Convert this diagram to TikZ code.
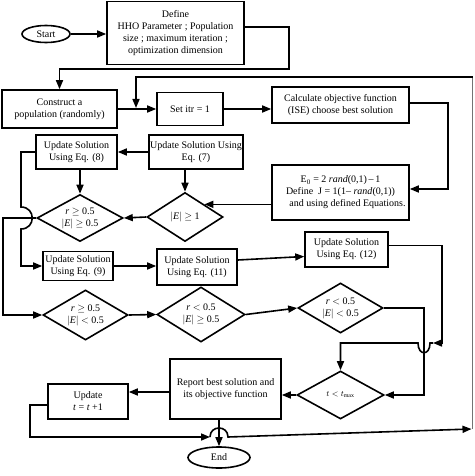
\documentclass[tikz,border=0pt]{standalone}
\usepackage{fontspec}
\setmainfont{Liberation Serif}
\usetikzlibrary{shapes.geometric,arrows.meta}
\begin{document}
\begin{tikzpicture}[x=1pt,y=-1pt,
  txt/.style={font=\fontsize{10}{12}\selectfont},
  box/.style={txt,draw,line width=1.6pt,rectangle,inner sep=0pt,align=center},
  dia/.style={txt,draw,line width=1.6pt,diamond,shape aspect=1.8,inner sep=0pt,align=center},
  oval/.style={txt,draw,line width=1.6pt,ellipse,inner sep=0pt},
  arr/.style={line width=1.6pt,-{Triangle[length=9pt,width=7pt]}},
  ln/.style={line width=1.6pt},
  edge/.style={line width=1.6pt,draw=black!55}]
\useasboundingbox (0,0) rectangle (474,476);

% nodes
\node[oval,minimum width=48pt,minimum height=17pt] (start) at (46,34) {Start};
\node[box,minimum width=137pt,minimum height=63pt] (define) at (175.5,33)
  {Define\\HHO Parameter ; Population\\size ; maximum iteration ;\\optimization dimension};
\node[box,minimum width=115pt,minimum height=38pt] (construct) at (59.5,109)
  {Construct a\\population (randomly)};
\node[box,minimum width=66pt,minimum height=33pt] (setitr) at (190,109) {Set itr = 1};
\node[box,minimum width=137pt,minimum height=36pt] (calc) at (340.5,105)
  {Calculate objective function\\(ISE) choose best solution};
\node[box,minimum width=137pt,minimum height=55pt] (e0) at (340.5,192.5)
  {E\textsubscript{0} = 2 \textit{rand}(0,1)\,--\,1\\
   Define\ \ J = 1(1-- \textit{rand}(0,1))\hspace{10pt}\\
   \hspace{14pt}and using defined Equations.};
\node[box,minimum width=94pt,minimum height=34pt] (eq7) at (196,152)
  {Update Solution Using\\Eq. (7)};
\node[box,minimum width=81pt,minimum height=34pt] (eq8) at (76.5,152)
  {Update Solution\\Using Eq. (8)};
\node[dia,minimum width=76pt,minimum height=49pt] (d1) at (185,217)
  {$|\textit{E}|$ $\geq$ 1};
\node[dia,minimum width=86pt,minimum height=47pt] (d2) at (80,218)
  {\textit{r} $\geq$ 0.5\\$|\textit{E}|$ $\geq$ 0.5};
\node[box,minimum width=70pt,minimum height=29pt] (eq9) at (78,266)
  {Update Solution\\Using Eq. (9)};
\node[box,minimum width=80pt,minimum height=36pt] (eq11) at (197,267)
  {Update Solution\\Using Eq. (11)};
\node[box,minimum width=83pt,minimum height=35pt] (eq12) at (346.5,249.5)
  {Update Solution\\Using Eq. (12)};
\node[dia,minimum width=85pt,minimum height=50pt] (d3) at (85.5,315)
  {\textit{r} $\geq$ 0.5\\$|\textit{E}|$ $<$ 0.5};
\node[dia,minimum width=88pt,minimum height=55pt] (d4) at (201,314.5)
  {\textit{r} $<$ 0.5\\$|\textit{E}|$ $\geq$ 0.5};
\node[dia,minimum width=85pt,minimum height=50pt] (d5) at (340.5,308)
  {\textit{r} $<$ 0.5\\$|\textit{E}|$ $<$ 0.5};
\node[dia,minimum width=87pt,minimum height=48pt,font=\fontsize{8.5}{10}\selectfont] (dt) at (340.5,395)
  {$t<t_{\max}$};
\node[box,minimum width=111pt,minimum height=60pt] (report) at (225.5,389)
  {Report best solution and\\its objective function};
\node[box,minimum width=80pt,minimum height=35pt] (update) at (88,401.5)
  {Update\\\textit{t} = \textit{t} +1};
\node[oval,minimum width=62pt,minimum height=21pt] (end) at (219,457.5) {End};

% helper coordinates
\coordinate (a1) at (289,27);
\coordinate (a2) at (289,69);
\coordinate (c1) at (448,189);
\coordinate (l1) at (30,437);
\coordinate (h1) at (210,437);
\coordinate (h2) at (228,437);
\coordinate (r1) at (471.5,429);
\coordinate (r2) at (472.5,429);
\coordinate (r3) at (472.5,77);
\coordinate (t1) at (136,77);
\coordinate (t2) at (136,108);
\coordinate (q1) at (442,343);
\coordinate (q2) at (433,343);
\coordinate (q3) at (430,343);
\coordinate (q4) at (418,343);
\coordinate (v1) at (424,395);
\coordinate (k1) at (21,207);
\coordinate (k2) at (21,229);
\coordinate (w1) at (3,218);

% connectors
\draw[arr] (start.east) -- (start.east -| define.west);
\draw[arr] ([yshift=6pt]define.east) -- (a1) -- (a2) -| (construct.north);
\draw[arr] (construct.east) -- (setitr.west);
\draw[arr] (setitr.east) -- (setitr.east -| calc.west);
\draw[arr] ([yshift=2pt]calc.east) -| (c1) -- (c1 -| e0.east);
\draw[arr] (e0.west |- d1.north east) -- (d1.north east);
\draw[arr] (eq7.west) -- (eq8.east);
\draw[arr] (eq7.south -| d1.north) -- (d1.north);
\draw[arr] (eq8.south -| d2.north) -- (d2.north);
\draw[arr] (d1.west) -- (d2.east);
\draw[arr] (eq8.west) -| (k1) .. controls (36,207) and (36,229) .. (k2) |- (eq9.west);
\draw[arr] (d2.west) -- (w1) |- (d3.west);
\draw[arr] (eq9.east) -- (eq9.east -| eq11.west);
\draw[arr] ([yshift=7pt]eq11.east) -- ([yshift=-7pt]eq12.west);
\draw[arr] ([yshift=4pt]eq12.east) -| (q1) -- (q2);
\draw[arr] (q2) -- (q3) .. controls (430,356) and (418,356) .. (q4) -| (dt.north);
\draw[arr] (d3.east) -- (d4.west);
\draw[arr] (d4.east) -- (d5.west);
\draw[arr] (d5.east) -| (v1) -- (dt.east);
\draw[arr] (dt.west) -- (dt.west -| report.east);
\draw[arr] ([yshift=-3pt]report.west) -- ([yshift=-3pt]report.west -| update.east);
\draw[arr] (report.south -| end.north) -- (end.north);
\draw[arr] ([yshift=-3.5pt]update.west) -| (l1) -- (h1);
\draw[arr] (h1) .. controls (210,425) and (228,425) .. (h2) -- (r1);
\draw[edge] (r2) -- (r3);
\draw[arr] (r3) -- (t1) -- (t2);
\end{tikzpicture}
\end{document}
